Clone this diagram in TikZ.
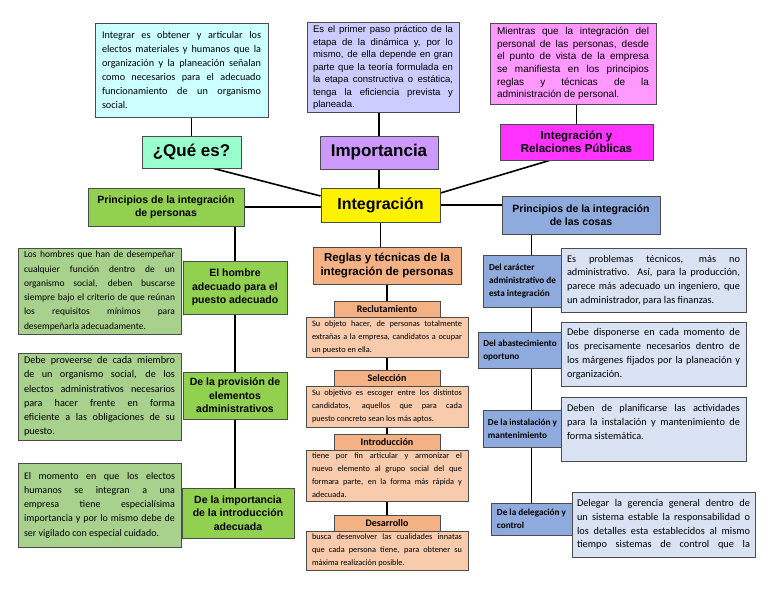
\documentclass[tikz,border=0pt]{standalone}
\usepackage{fontspec}
\setmainfont{Carlito}
\newfontfamily\arialfont{Liberation Sans}
\usetikzlibrary{backgrounds}

\definecolor{quefill}{RGB}{204,255,255}
\definecolor{quehead}{RGB}{153,255,204}
\definecolor{impfill}{RGB}{204,204,255}
\definecolor{imphead}{RGB}{204,153,255}
\definecolor{relfill}{RGB}{255,153,255}
\definecolor{relhead}{RGB}{255,51,255}
\definecolor{pergreen}{RGB}{146,208,80}
\definecolor{pertext}{RGB}{169,209,142}
\definecolor{cosblue}{RGB}{143,170,220}
\definecolor{costext}{RGB}{218,227,243}
\definecolor{regsalmon}{RGB}{244,177,131}
\definecolor{regtext}{RGB}{248,203,173}

\begin{document}
\begin{tikzpicture}[
  x=1pt, y=-1pt,
  box/.style={rectangle, draw=black!70, line width=0.9pt},
  head/.style={box, align=center, inner sep=2pt, font=\arialfont\bfseries\fontsize{#1}{13.5}\selectfont},
  txt/.style={box, align=justify, inner xsep=6pt, inner ysep=3pt},
  sub/.style={box, fill=regsalmon, minimum width=106pt, minimum height=16pt, inner sep=1pt, font=\bfseries\fontsize{10}{12}\selectfont},
  regtxt/.style={txt, fill=regtext, minimum width=162pt, text width=150pt, font=\fontsize{8.3}{13}\selectfont},
  pertxt/.style={txt, fill=pertext, minimum width=163pt, text width=151pt},
  cosa/.style={box, fill=cosblue, align=left, inner xsep=2pt, font=\bfseries\fontsize{9.2}{13}\selectfont},
  costxt/.style={txt, fill=costext, minimum width=183pt, minimum height=64pt, text width=173pt, font=\fontsize{10.3}{13.8}\selectfont},
  link/.style={draw=black, line width=1.6pt}
]
  \useasboundingbox (0,0) rectangle (768,594);

  % arriba
  \node[txt, fill=quefill, minimum width=173pt, minimum height=94pt, text width=159pt, font=\fontsize{10.2}{14}\selectfont] (quetxt) at (181.5,70)
    {Integrar es obtener y articular los\linebreak electos materiales y humanos que la\linebreak organización y la planeación señalan\linebreak como necesarios para el adecuado\linebreak funcionamiento de un organismo\linebreak social.};
  \node[txt, fill=impfill, minimum width=152pt, minimum height=89pt, text width=140pt, font=\arialfont\fontsize{9.5}{12.5}\selectfont] (imptxt) at (383,67.5)
    {Es el primer paso práctico de la\linebreak etapa de la dinámica y, por lo\linebreak mismo, de ella depende en gran\linebreak parte que la teoría formulada en\linebreak la etapa constructiva o estática,\linebreak tenga la eficiencia prevista y\linebreak planeada.};
  \node[txt, fill=relfill, minimum width=166pt, minimum height=81pt, text width=152pt, font=\arialfont\fontsize{10}{12.7}\selectfont] (reltxt) at (573,63.5)
    {Mientras que la integración del\linebreak personal de las personas, desde\linebreak el punto de vista de la empresa\linebreak se manifiesta en los principios\linebreak reglas y técnicas de la\linebreak administración de personal.};

  \node[head=17, fill=quehead, minimum width=99pt, minimum height=32pt] (que) at (191.5,152) {¿Qué es?};
  \node[head=17, fill=imphead, minimum width=118pt, minimum height=33pt] (imp) at (379,152.5) {Importancia};
  \node[head=11.5, fill=relhead, minimum width=153pt, minimum height=36pt] (rel) at (576.5,142) {Integración y\\Relaciones Públicas};

  \node[head=16, fill=yellow, minimum width=119pt, minimum height=34pt] (integ) at (380.5,205) {Integración};
  \node[head=10.5, fill=pergreen, minimum width=156pt, minimum height=38pt] (per) at (166,207) {Principios de la integración\\de personas};
  \node[head=10.5, fill=cosblue, minimum width=158pt, minimum height=38pt] (cos) at (581,215) {Principios de la integración\\de las cosas};

  % personas
  \node[pertxt, minimum height=86pt, font=\fontsize{9.5}{14.3}\selectfont] (pertxta) at (99.5,291)
    {Los hombres que han de desempeñar\linebreak cualquier función dentro de un\linebreak organismo social, deben buscarse\linebreak siempre bajo el criterio de que reúnan\linebreak los requisitos mínimos para\linebreak desempeñarla adecuadamente.};
  \node[head=10.5, fill=pergreen, minimum width=104pt, minimum height=53pt] (hombre) at (235,287.5) {El hombre\\adecuado para el\\puesto adecuado};
  \node[pertxt, minimum height=87pt, font=\fontsize{10.2}{14.3}\selectfont] (pertxtb) at (99.5,396.5)
    {Debe proveerse de cada miembro\linebreak de un organismo social, de los\linebreak electos administrativos necesarios\linebreak para hacer frente en forma\linebreak eficiente a las obligaciones de su\linebreak puesto.};
  \node[head=10.5, fill=pergreen, minimum width=104pt, minimum height=47pt] (provision) at (235,395.5) {De la provisión de\\elementos\\administrativos};
  \node[pertxt, minimum height=84pt, font=\fontsize{10}{14.2}\selectfont] (pertxtc) at (99.5,505)
    {El momento en que los electos\linebreak humanos se integran a una\linebreak empresa tiene especialísima\linebreak importancia y por lo mismo debe de\linebreak ser vigilado con especial cuidado.};
  \node[head=10.5, fill=pergreen, minimum width=112pt, minimum height=50pt] (introd) at (238,513) {De la importancia\\de la introducción\\adecuada};

  % reglas y tecnicas
  \node[head=11.5, fill=regsalmon, minimum width=148pt, minimum height=37pt] (reglas) at (387,265.5) {Reglas y técnicas de la\\integración de personas};
  \node[sub] (reclh) at (387,309) {Reclutamiento};
  \node[regtxt, minimum height=40pt] (reclt) at (387,337)
    {Su objeto hacer, de personas totalmente\linebreak extrañas a la empresa, candidatos a ocupar\linebreak un puesto en ella.};
  \node[sub] (selh) at (387,378) {Selección};
  \node[regtxt, minimum height=41pt] (selt) at (387,406.5)
    {Su objetivo es escoger entre los distintos\linebreak candidatos, aquellos que para cada\linebreak puesto concreto sean los más aptos.};
  \node[sub] (intrh) at (387,442) {Introducción};
  \node[regtxt, minimum height=51pt] (intrt) at (387,475.5)
    {tiene por fin articular y armonizar el\linebreak nuevo elemento al grupo social del que\linebreak formara parte, en la forma más rápida y\linebreak adecuada.};
  \node[sub] (desh) at (387,523) {Desarrollo};
  \node[regtxt, minimum height=39pt] (dest) at (387,550.5)
    {busca desenvolver las cualidades innatas\linebreak que cada persona tiene, para obtener su\linebreak máxima realización posible.};

  % cosas
  \node[cosa, minimum width=79pt, minimum height=52pt] (caracter) at (522.5,281) {Del carácter\\administrativo de\\esta integración};
  \node[costxt] (caractert) at (653.5,280)
    {Es problemas técnicos, más no\linebreak administrativo. Así, para la producción,\linebreak parece más adecuado un ingeniero, que\linebreak un administrador, para las finanzas.};
  \node[cosa, minimum width=84pt, minimum height=36pt] (abast) at (520,350) {Del abastecimiento\\oportuno};
  \node[costxt] (abastt) at (653.5,354)
    {Debe disponerse en cada momento de\linebreak los precisamente necesarios dentro de\linebreak los márgenes fijados por la planeación y\linebreak organización.};
  \node[cosa, minimum width=79pt, minimum height=37pt] (instal) at (522.5,428.5) {De la instalación y\\mantenimiento};
  \node[costxt] (instalt) at (653.5,429)
    {Deben de planificarse las actividades\linebreak para la instalación y mantenimiento de\linebreak forma sistemática.\par\mbox{}};
  \node[cosa, minimum width=81pt, minimum height=32pt] (deleg) at (531.5,519) {De la delegación y\\control};
  \node[box, fill=costext, minimum width=183pt, minimum height=65pt, inner xsep=5pt, font=\fontsize{10.3}{13.8}\selectfont] (delegt) at (663.5,524.5)
    {\parbox{173pt}{\parfillskip=0pt Delegar la gerencia general dentro de\linebreak un sistema estable la responsabilidad o\linebreak los detalles esta establecidos al mismo\linebreak tiempo sistemas de control que la}};

  \begin{scope}[on background layer]
    \fill[white] (0,0) rectangle (768,594);
    \draw[link] (quetxt.south -| que) -- (que.north);
    \draw[link] (imptxt.south -| imp) -- (imp.north);
    \draw[link] (reltxt.south -| rel) -- (rel.north);
    \draw[link] ([xshift=22pt]que.south) -- ([yshift=9pt]integ.west);
    \draw[link] (imp.south) -- (imp.south |- integ.north);
    \draw[link] ([xshift=-27pt]rel.south) -- ([yshift=12pt]integ.east);
    \draw[link] (per.east) -- (per.east -| integ.west);
    \draw[link] (integ.east) -- (integ.east -| cos.west);
    \draw[link] (per.south -| hombre) -- (hombre.north);
    \draw[link] (hombre.south) -- (provision.north);
    \draw[link] (provision.south) -- (provision.south |- introd.north);
    \draw[link] (integ.south) -- (integ.south |- reglas.north);
    \draw[link] (reglas.south) -- (reclh.north);
    \draw[link] (reclt.south) -- (selh.north);
    \draw[link] (selt.south) -- (intrh.north);
    \draw[link] (intrt.south) -- (desh.north);
    \draw[link] (cos.south -| deleg) -- (caracter.north -| deleg);
    \draw[link] (caracter.south -| deleg) -- (abast.north -| deleg);
    \draw[link] (abast.south -| deleg) -- (instal.north -| deleg);
    \draw[link] (instal.south -| deleg) -- (deleg.north);
  \end{scope}
\end{tikzpicture}
\end{document}
